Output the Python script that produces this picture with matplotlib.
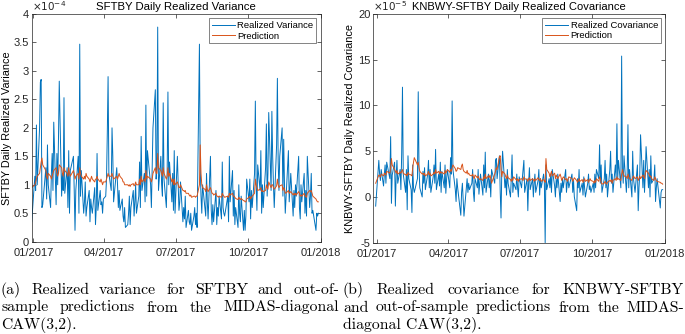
import numpy as np
import pandas as pd
import matplotlib

matplotlib.use("Agg")
import matplotlib.pyplot as plt

plt.rcParams["font.family"] = ["Liberation Sans", "DejaVu Sans"]
plt.rcParams["axes.unicode_minus"] = False

# trading days 30/12/2016 .. 29/12/2017
holidays = ["2017-01-02", "2017-01-16", "2017-02-20", "2017-04-14", "2017-05-29",
            "2017-07-04", "2017-09-04", "2017-11-23", "2017-12-25"]
dates = pd.bdate_range("2016-12-30", "2017-12-29")
dates = dates[~dates.isin(pd.to_datetime(holidays))]

# SFTBY realized variance, x 1e-4 (one row per month)
rv = [0.35, 1.15, 0.9, 2.05, 1.0, 2.0, 2.8, 2.85, 0.6, 0.65, 1.3, 0.75, 1.7, 1.0, 0.6, 1.2, 1.55, 0.9, 2.1, 0.65, 1.55,
      1.0, 1.8, 2.82, 0.8, 1.2, 0.9, 2.53, 0.85, 1.3, 0.6, 1.6, 0.5, 1.25, 1.5, 0.9, 0.2, 0.9, 1.5, 0.5,
      3.47, 0.8, 1.25, 0.5, 0.7, 1.05, 0.45, 0.6, 0.9, 0.35, 0.75, 0.6, 0.5, 0.95, 0.3, 0.6, 1.55, 0.55, 0.9, 0.65, 0.7, 0.5, 0.75,
      0.8, 1.1, 1.9, 2.9, 1.2, 0.9, 2.0, 1.5, 0.7, 1.3, 1.0, 0.6, 0.9, 0.55, 0.75, 0.45, 0.35, 0.6, 0.25,
      0.3, 0.5, 0.8, 0.3, 0.6, 0.9, 0.45, 0.7, 1.0, 0.5, 0.8, 1.4, 0.6, 1.85, 0.9, 1.2, 0.7, 2.4, 0.8, 1.6, 1.0, 0.6,
      1.3, 2.0, 2.67, 1.1, 1.3, 3.77, 0.9, 1.5, 1.0, 0.8, 2.44, 1.1, 0.6, 1.2, 2.63, 1.0, 1.4, 0.7, 1.2, 0.55, 1.6, 0.5,
      1.5, 0.55, 0.7, 1.05, 0.35, 0.6, 0.4, 0.8, 0.25, 0.55, 0.35, 0.3, 0.5, 0.2, 0.45, 0.6, 0.3, 0.5, 0.25, 3.47,
      1.3, 0.8, 0.5, 1.0, 0.6, 0.45, 1.2, 0.7, 0.4, 1.5, 0.55, 0.3, 0.65, 0.35, 0.9, 0.3, 0.6, 0.45, 0.8, 0.4, 1.4, 0.6, 0.5,
      0.45, 0.8, 0.35, 1.5, 0.7, 1.25, 0.45, 0.9, 0.3, 0.6, 0.25, 1.0, 0.5, 0.35, 0.8, 0.2, 0.55, 0.2, 0.45, 1.1,
      0.7, 1.1, 0.4, 0.9, 0.6, 1.2, 2.47, 1.0, 0.55, 1.35, 0.9, 1.6, 0.5, 1.0, 0.6, 1.3, 2.07, 0.8, 1.2, 2.27, 0.9, 2.29,
      1.5, 1.0, 0.6, 1.7, 2.87, 1.4, 0.9, 1.5, 2.0, 0.8, 1.8, 1.0, 0.5, 1.3, 1.6, 0.7, 1.2, 0.45, 0.9, 0.6, 1.0,
      0.8, 1.5, 0.6, 0.4, 1.0, 0.7, 1.2, 0.5, 0.9, 0.45, 1.5, 0.6, 0.8, 1.2, 0.5, 0.55, 0.2, 0.5, 0.45, 0.5]

rv_pred = [0.95, 1.0, 1.05, 1.1, 1.15, 1.2, 1.3, 1.4, 1.47, 1.35, 1.25, 1.15, 1.1, 1.2, 1.15, 1.1, 1.15, 1.2, 1.25, 1.3, 1.2,
           1.15, 1.2, 1.35, 1.3, 1.2, 1.15, 1.3, 1.25, 1.2, 1.15, 1.3, 1.2, 1.15, 1.25, 1.2, 1.1, 1.15, 1.2, 1.1,
           1.3, 1.2, 1.15, 1.1, 1.15, 1.1, 1.2, 1.15, 1.1, 1.05, 1.1, 1.15, 1.1, 1.05, 1.1, 1.1, 1.15, 1.1, 1.05, 1.1, 1.05, 1.0, 1.05,
           1.05, 1.1, 1.15, 1.2, 1.15, 1.15, 1.2, 1.15, 1.1, 1.15, 1.1, 1.15, 1.2, 1.15, 1.1, 1.05, 1.05, 1.0, 1.0,
           1.0, 0.98, 1.0, 0.97, 1.0, 1.02, 0.98, 1.0, 1.05, 1.0, 1.0, 1.1, 1.0, 1.15, 1.05, 1.1, 1.05, 1.25, 1.1, 1.15, 1.1, 1.05,
           1.1, 1.2, 1.3, 1.2, 1.2, 1.55, 1.3, 1.25, 1.2, 1.15, 1.3, 1.2, 1.1, 1.15, 1.3, 1.15, 1.2, 1.05, 1.1, 1.0, 1.1, 1.0,
           1.05, 0.95, 0.95, 1.0, 0.9, 0.9, 0.88, 0.9, 0.85, 0.85, 0.82, 0.8, 0.82, 0.78, 0.8, 0.8, 0.78, 0.8, 0.8, 1.0,
           1.7, 1.2, 1.0, 0.95, 0.92, 0.88, 1.0, 0.92, 0.88, 0.95, 0.9, 0.85, 0.85, 0.82, 0.85, 0.8, 0.8, 0.78, 0.8, 0.78, 0.85, 0.82, 0.8,
           0.78, 0.8, 0.78, 0.85, 0.82, 0.85, 0.8, 0.8, 0.78, 0.76, 0.74, 0.78, 0.76, 0.74, 0.76, 0.72, 0.72, 0.7, 0.7, 0.75,
           0.78, 0.8, 0.75, 0.78, 0.8, 0.85, 1.1, 1.0, 0.95, 0.9, 0.92, 0.95, 0.88, 0.9, 0.88, 0.9, 1.0, 0.95, 0.92, 1.05, 0.95, 1.0,
           1.0, 0.95, 0.92, 0.98, 1.1, 1.0, 0.95, 0.98, 1.0, 0.9, 0.95, 0.92, 0.85, 0.88, 0.9, 0.85, 0.88, 0.82, 0.85, 0.82, 0.85,
           0.82, 0.88, 0.85, 0.8, 0.82, 0.8, 0.85, 0.8, 0.8, 0.78, 0.85, 0.9, 0.88, 0.9, 0.85, 0.8, 0.75, 0.72, 0.7, 0.7]

# KNBWY-SFTBY realized covariance, x 1e-5
rc = [-1.0, 4.0, 2.5, 1.8, 3.0, 1.2, 2.5, 3.5, 1.5, 3.8, 2.0, 6.6, -0.7, 2.4, 3.8, -1.0, 2.3, 4.0, 1.5, 3.0, 0.8,
      4.7, 12.0, 2.5, 0.5, 3.0, -1.4, 4.5, 2.0, 0.8, -1.7, 3.5, 1.0, 0.5, 2.0, 11.5, 3.0, 1.0, 0.0, 2.8,
      1.5, 3.2, 0.8, 2.5, 4.0, 1.0, 3.0, 0.5, 2.2, 3.5, 1.5, 5.2, 0.8, 2.5, 1.2, 3.8, 0.5, 2.8, 1.0, 3.5, 0.4, 2.0, 3.0,
      1.0, 4.3, 2.5, 10.5, 3.0, 0.8, -0.5, 2.0, 1.0, -2.0, 0.5, 1.5, -0.3, -2.1, 1.0, 2.0, 0.5, 1.5, 0.8,
      1.5, 3.0, 0.5, -0.5, 2.0, 1.0, 3.0, 0.3, 1.5, 2.5, 0.2, 3.5, 1.0, 4.9, 0.5, 2.5, 1.0, 2.0, 0.0, 3.0, 1.5, 4.0,
      4.2, 2.0, 4.5, 0.5, -2.3, 3.0, 5.0, 1.0, 2.0, 0.2, 3.0, 1.5, 0.0, 2.0, 4.6, 0.5, 1.5, 0.8, 2.5, 1.0, 0.0, 2.2,
      1.0, 3.0, 4.0, 0.5, 2.0, -1.5, 1.5, 3.2, 0.8, 2.0, 0.0, 1.5, 2.5, 0.5, 1.8, 3.0, 0.2, 2.0, 1.0, 2.5,
      1.5, -5.0, 3.5, 0.8, 2.0, 1.0, 2.5, 0.5, 3.0, 1.2, 0.0, 2.0, 1.0, 2.5, -0.5, 1.5, 0.5, 2.0, 1.0, 3.0, 0.5, 1.5, 2.0,
      1.0, 2.5, 0.5, 1.8, 0.0, -1.5, 2.0, 1.0, 3.0, 0.5, 1.5, 0.2, 2.2, 1.0, 0.0, 1.5, 2.5, 0.8, 1.2, 0.5,
      1.5, 0.5, 2.5, 1.0, 3.0, 2.0, 5.7, 1.5, 3.5, 0.5, 2.0, 4.0, 1.0, 2.5, 0.0, 3.0, 5.0, 1.5, 2.5, 0.5, 3.5, 2.0,
      8.0, 2.0, 4.0, 1.0, 15.4, 3.0, 1.5, 4.5, 0.5, 2.5, 7.9, 1.0, 3.0, 0.0, 5.0, 2.0, 0.5, 3.5, -1.5, 1.0, 2.5,
      6.8, 1.0, 4.0, 0.5, 2.5, 5.5, 1.0, 3.0, 0.0, 4.5, 1.5, 2.0, 3.5, -0.5, 1.0, 2.0, -1.2, 0.5, 0.8, 0.8]

rc_pred = [1.5, 2.4, 2.3, 2.2, 2.5, 2.3, 2.6, 2.5, 2.4, 2.8, 2.6, 3.2, 4.2, 3.5, 3.0, 2.8, 2.6, 2.9, 2.5, 2.7, 2.6,
           2.8, 3.0, 2.6, 2.4, 2.5, 2.3, 2.7, 2.5, 2.4, 2.3, 3.2, 3.8, 4.3, 3.5, 3.8, 3.2, 2.8, 2.5, 2.6,
           2.4, 2.6, 2.3, 2.5, 2.8, 2.4, 2.6, 2.3, 2.5, 2.7, 2.5, 3.0, 2.6, 2.8, 2.5, 2.8, 2.6, 2.7, 2.5, 2.9, 2.6, 2.8, 3.0,
           2.7, 3.0, 2.8, 3.2, 3.5, 3.1, 2.8, 2.9, 3.2, 3.0, 3.4, 3.6, 3.0, 2.8, 2.6, 2.9, 2.5, 2.6, 2.4,
           2.3, 2.5, 2.2, 2.0, 2.4, 2.1, 2.3, 2.0, 1.9, 2.0, 1.8, 2.2, 2.0, 2.5, 2.0, 2.3, 2.1, 2.4, 2.0, 1.5, 2.5, 2.8,
           3.2, 3.0, 4.4, 4.5, 3.0, 2.2, 2.8, 2.5, 2.2, 2.0, 2.4, 2.1, 1.9, 1.7, 2.0, 1.8, 2.2, 1.9, 1.8, 2.0, 1.7, 1.9,
           2.0, 1.8, 2.2, 2.0, 1.9, 1.7, 2.0, 2.1, 1.8, 2.0, 1.9, 1.7, 2.0, 1.8, 2.1, 1.9, 1.8, 2.0, 1.7, 1.9,
           1.8, 1.6, 4.2, 3.0, 2.6, 2.2, 2.5, 2.8, 2.3, 2.6, 2.0, 2.4, 2.2, 2.0, 2.5, 2.2, 1.8, 2.0, 2.2, 1.9, 2.0, 1.7, 1.9,
           2.2, 2.0, 1.7, 1.9, 2.1, 1.8, 1.6, 1.8, 2.0, 1.7, 1.9, 1.6, 1.8, 2.0, 1.7, 1.9, 1.6, 1.8, 2.0, 1.8,
           1.7, 1.5, 1.8, 1.6, 2.0, 1.7, 2.2, 2.0, 1.6, 1.4, 1.5, 1.7, 1.5, 1.4, 1.6, 1.8, 1.7, 1.9, 1.5, 1.8, 2.0, 1.8,
           2.2, 1.9, 2.0, 1.8, 2.5, 3.0, 2.6, 2.3, 2.2, 2.0, 2.5, 2.2, 2.0, 1.8, 2.1, 2.3, 2.0, 2.2, 1.8, 2.0, 2.3,
           2.0, 2.4, 2.2, 2.0, 2.5, 2.9, 2.6, 2.4, 2.2, 2.3, 2.0, 1.8, 2.2, 2.0, 1.8, 1.7, 1.6, 1.5, 1.5, 1.4]

for s in (rv, rv_pred, rc, rc_pred):
    assert len(s) == len(dates), (len(s), len(dates))

tick_dates = pd.to_datetime(["2017-01-01", "2017-04-01", "2017-07-01", "2017-10-01", "2018-01-01"])
tick_labels = ["01/2017", "04/2017", "07/2017", "10/2017", "01/2018"]

BLUE = "#0072BD"
ORANGE = "#D95319"
AXC = "#262626"

fig = plt.figure(figsize=(6.85, 3.34), dpi=100)
W, H = 685, 334


def px_axes(l, t, r, b):
    return fig.add_axes([l / W, 1 - b / H, (r - l) / W, (b - t) / H])


def style(ax):
    for sp in ax.spines.values():
        sp.set_color(AXC)
        sp.set_linewidth(0.5)
    ax.tick_params(direction="in", length=3, width=0.5, colors=AXC, labelsize=8,
                   top=True, right=True, pad=2)
    ax.tick_params(axis="x", pad=4.5)
    ax.set_xticks(tick_dates)
    ax.set_xticklabels(tick_labels)


def legend(ax):
    leg = ax.legend(loc="upper right", fontsize=6.8, frameon=True, fancybox=False,
                    edgecolor=AXC, handlelength=2.4, borderpad=0.3, labelspacing=0.15,
                    handletextpad=0.3, borderaxespad=0.45)
    leg.get_frame().set_linewidth(0.5)


ax1 = px_axes(31.7, 14, 320.7, 241.7)
ax1.plot(dates, rv, color=BLUE, lw=0.7, label="Realized Variance")
ax1.plot(dates, rv_pred, color=ORANGE, lw=0.7, label="Prediction")
ax1.set_ylim(0, 4)
ax1.set_yticks(np.arange(0, 4.01, 0.5))
ax1.set_yticklabels(["0", "0.5", "1", "1.5", "2", "2.5", "3", "3.5", "4"])
ax1.set_xlim(pd.Timestamp("2016-12-30"), pd.Timestamp("2018-01-01"))
style(ax1)
ax1.set_title("SFTBY Daily Realized Variance", fontsize=8.2, color="black", pad=3)
ax1.set_ylabel("SFTBY Daily Realized Variance", fontsize=7.8, labelpad=1)
ax1.text(0.0, 1.005, r"$\times10^{-4}$", transform=ax1.transAxes, fontsize=7.5,
         color=AXC, va="bottom", ha="left")
legend(ax1)

ax2 = px_axes(373.3, 14, 665, 242.7)
ax2.plot(dates, rc, color=BLUE, lw=0.7, label="Realized Covariance")
ax2.plot(dates, rc_pred, color=ORANGE, lw=0.7, label="Prediction")
ax2.set_ylim(-5, 20)
ax2.set_yticks(np.arange(-5, 21, 5))
ax2.set_yticklabels(["-5", "0", "5", "10", "15", "20"])
ax2.set_xlim(pd.Timestamp("2016-12-27"), pd.Timestamp("2018-01-01"))
style(ax2)
ax2.set_title("KNBWY-SFTBY Daily Realized Covariance", fontsize=8, color="black", pad=3)
ax2.set_ylabel("KNBWY-SFTBY Daily Realized Covariance", fontsize=7.8, labelpad=2)
ax2.text(0.0, 1.005, r"$\times10^{-5}$", transform=ax2.transAxes, fontsize=7.5,
         color=AXC, va="bottom", ha="left")
legend(ax2)

# captions, justified like the LaTeX subcaptions
cap_font = dict(family="cmr10", fontsize=11.3, color="black", va="baseline")
captions = [
    (1, 339, ["(a) Realized variance for SFTBY and out-of-",
              "sample predictions from the MIDAS-diagonal",
              "CAW(3,2)."]),
    (343, 684, ["(b) Realized covariance for KNBWY-SFTBY",
                "and out-of-sample predictions from the MIDAS-",
                "diagonal CAW(3,2)."]),
]
baselines = [294, 311.5, 329]

fig.canvas.draw()
renderer = fig.canvas.get_renderer()
for x0, x1, lines in captions:
    for i, line in enumerate(lines):
        y = 1 - baselines[i] / H
        words = line.split(" ")
        if i == len(lines) - 1:
            fig.text(x0 / W, y, line, ha="left", **cap_font)
            continue
        texts = [fig.text(0, y, w, ha="left", **cap_font) for w in words]
        widths = [t.get_window_extent(renderer).width for t in texts]
        gap = (x1 - x0 - sum(widths)) / (len(words) - 1)
        x = x0
        for t, w in zip(texts, widths):
            t.set_x(x / W)
            x += w + gap

fig.savefig("out.png", dpi=100)
